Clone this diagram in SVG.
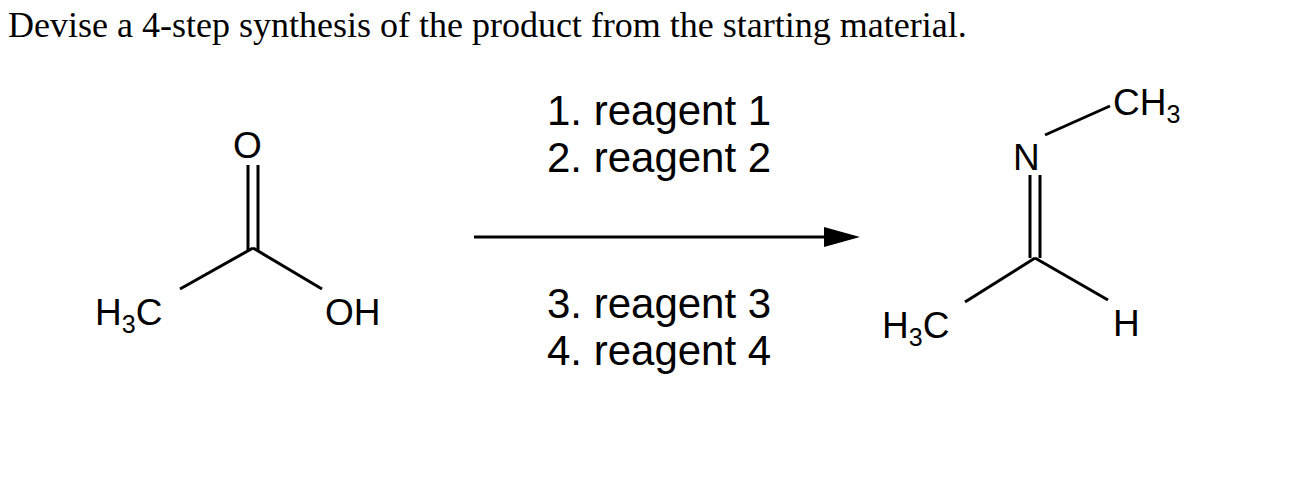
<svg xmlns="http://www.w3.org/2000/svg" width="1306" height="498" viewBox="0 0 1306 498">
<style>
.t{font-family:"Liberation Serif",serif;font-size:36px}
.a{font-family:"Liberation Sans",Arial,sans-serif;font-size:37px}
.r{font-family:"Liberation Sans",Arial,sans-serif;font-size:42px}
.s{font-size:25px}
line{stroke:#000;stroke-width:3}
</style>
<rect width="1306" height="498" fill="#fff"/>
<text class="t" x="8" y="37">Devise a 4-step synthesis of the product from the starting material.</text>
<g id="start">
<text class="a" x="95" y="325">H<tspan class="s" dy="8">3</tspan><tspan dy="-8">C</tspan></text>
<text class="a" x="233" y="158">O</text>
<text class="a" x="325" y="325">OH</text>
<line x1="248" y1="165" x2="248" y2="250"/>
<line x1="258" y1="165" x2="258" y2="250"/>
<line x1="180" y1="289" x2="253" y2="248"/>
<line x1="253" y1="248" x2="322" y2="289"/>
</g>
<g id="connectors">
<line x1="474" y1="237" x2="830" y2="237"/>
<path d="M824,227 L860,237 L824,247 Z"/>
</g>
<g id="reagents">
<text class="r" x="547" y="125">1. reagent 1</text>
<text class="r" x="547" y="172">2. reagent 2</text>
<text class="r" x="547" y="318">3. reagent 3</text>
<text class="r" x="547" y="365">4. reagent 4</text>
</g>
<g id="product">
<text class="a" x="1113" y="115">CH<tspan class="s" dy="8">3</tspan></text>
<text class="a" x="1013" y="170">N</text>
<text class="a" x="882" y="338">H<tspan class="s" dy="8">3</tspan><tspan dy="-8">C</tspan></text>
<text class="a" x="1113" y="336">H</text>
<line x1="1045" y1="135" x2="1110" y2="106"/>
<line x1="1030" y1="175" x2="1030" y2="258"/>
<line x1="1040" y1="175" x2="1040" y2="258"/>
<line x1="965" y1="302" x2="1035" y2="258"/>
<line x1="1035" y1="258" x2="1108" y2="300"/>
</g>
</svg>
